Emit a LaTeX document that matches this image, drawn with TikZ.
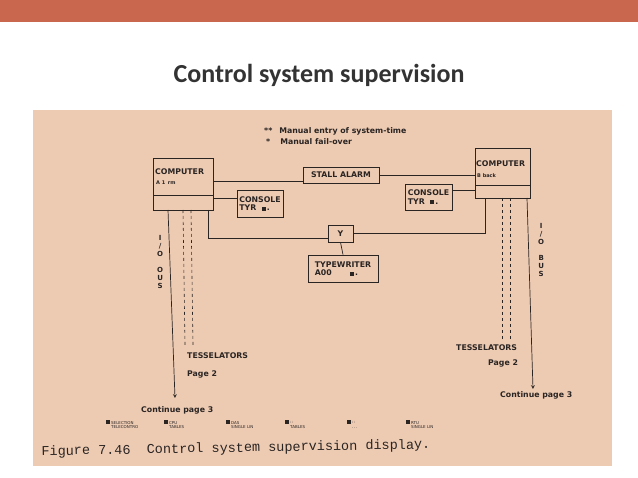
\documentclass[tikz,border=0pt]{standalone}
\usepackage{fontspec}
\setmainfont{Carlito}
\newfontfamily\dg{DejaVu Sans}
\newfontfamily\mono{Liberation Mono}
\definecolor{bar}{HTML}{C8664E}
\definecolor{paper}{HTML}{EDCBB3}
\definecolor{ink}{HTML}{2A2422}
\begin{document}
\begin{tikzpicture}[x=1pt,y=-1pt,
  box/.style={draw=ink,line width=0.7pt},
  wire/.style={draw=ink,line width=0.7pt},
  lab/.style={font=\dg\bfseries\fontsize{7.8}{8.5}\selectfont,text=ink,inner sep=0pt,anchor=west},
  tiny/.style={font=\dg\fontsize{4}{4.5}\selectfont,text=ink,inner sep=0pt,anchor=west,align=left}]
\useasboundingbox (0,0) rectangle (638,478);
\fill[white] (0,0) rectangle (638,478);
\fill[bar] (0,0) rectangle (638,22);
\node[font=\bfseries\fontsize{26}{28}\selectfont,text=black!80] (title) at (319,75) {Control system supervision};
\fill[paper] (33,110) rectangle (612,466);
% notes
\node[lab] (n1) at (264,131) {**\hspace{7pt}Manual entry of system-time};
\node[lab] (n2) at (266,142) {*\hspace{10pt}Manual fail-over};
% boxes
\draw[box] (153,158) rectangle (213,210); \draw[wire] (153,195) -- (213,195);
\node[lab] (ca) at (155,172) {COMPUTER};
\node[lab,font=\dg\bfseries\fontsize{5}{5}\selectfont] (ca2) at (156,183) {A 1 \,rm};
\draw[box] (475,148) rectangle (530,198); \draw[wire] (475,185) -- (530,185);
\node[lab] (cb) at (476,164) {COMPUTER};
\node[lab,font=\dg\bfseries\fontsize{5}{5}\selectfont] (cb2) at (477,176) {B back};
\node[box,lab,anchor=center,minimum width=76,minimum height=16] (stall) at (341,175) {STALL ALARM};
\node[box,lab,anchor=center,align=left,minimum width=46,minimum height=27,inner sep=1pt] (cona) at (260,203.5) {CONSOLE\\TYR\ \ \rule{4pt}{4pt}\,.};
\node[box,lab,anchor=center,align=left,minimum width=47,minimum height=26,inner sep=1pt] (conb) at (428.5,197) {CONSOLE\\TYR\ \ \rule{4pt}{4pt}\,.};
\node[box,lab,anchor=center,minimum width=25,minimum height=17] (y) at (340.5,233.5) {Y};
\node[box,lab,anchor=center,align=left,minimum width=70,minimum height=27,inner sep=1pt] (tw) at (343,268.5) {TYPEWRITER\\A00\hspace{18pt}\rule{4pt}{4pt}\,.};
% wires
\draw[wire] (213,181) -- (stall.west|-0,181);
\draw[wire] (stall.east) -- (475,175);
\draw[wire] (213,198) -- (cona.west|-0,198);
\draw[wire] (conb.east|-0,190) -- (475,190);
\draw[wire] (208,210) -- (208,238) -- (y.west|-0,238);
\draw[wire] (y.east|-0,233) -- (485,233) -- (485,198);
\draw[wire] (y.south) -- (tw.north);
% buses left
\draw[wire,-stealth] (168,210) -- (175,398);
\draw[ink,line width=0.6pt,dashed] (183,210) -- (185,345);
\draw[ink,line width=0.6pt,dashed] (191,210) -- (193,345);
\node[lab,align=center,font=\dg\bfseries\fontsize{7}{8}\selectfont] (ioa) at (157,262) {I\\/\\O\\\\O\\U\\S};
% buses right
\draw[ink,line width=0.6pt,dashed] (502,198) -- (502,340);
\draw[ink,line width=0.6pt,dashed] (510,198) -- (510,340);
\draw[wire,-stealth] (527,198) -- (533,389);
\node[lab,align=center,font=\dg\bfseries\fontsize{7}{8}\selectfont] (iob) at (538,250) {I\\/\\O\\\\B\\U\\S};
\node[lab] (tl) at (187,356) {TESSELATORS};
\node[lab] (pl) at (187,374) {Page 2};
\node[lab] (cl) at (141,410) {Continue page 3};
\node[lab] (tr) at (456,348) {TESSELATORS};
\node[lab] (pr) at (488,363) {Page 2};
\node[lab] (cr) at (500,395) {Continue page 3};
% legend
\foreach \x/\t [count=\i] in {106/{SELECTION\\TELECONTRO},164/{CPU\\TABLES},226/{DAS\\SINGLE LIN},285/{:: \\TABLES},347/{::\\.\,.\,.},406/{RTU\\SINGLE LIN}}{
  \fill[ink] (\x,420) rectangle ++(4,4);
  \node[tiny] (lg\i) at (\x+5,425) {\t};}
\node[font=\mono\fontsize{13.5}{15}\selectfont,text=ink,anchor=west,rotate=1.0] (cap) at (38,452) {Figure 7.46\ \ Control system supervision display.};
\end{tikzpicture}
\end{document}
